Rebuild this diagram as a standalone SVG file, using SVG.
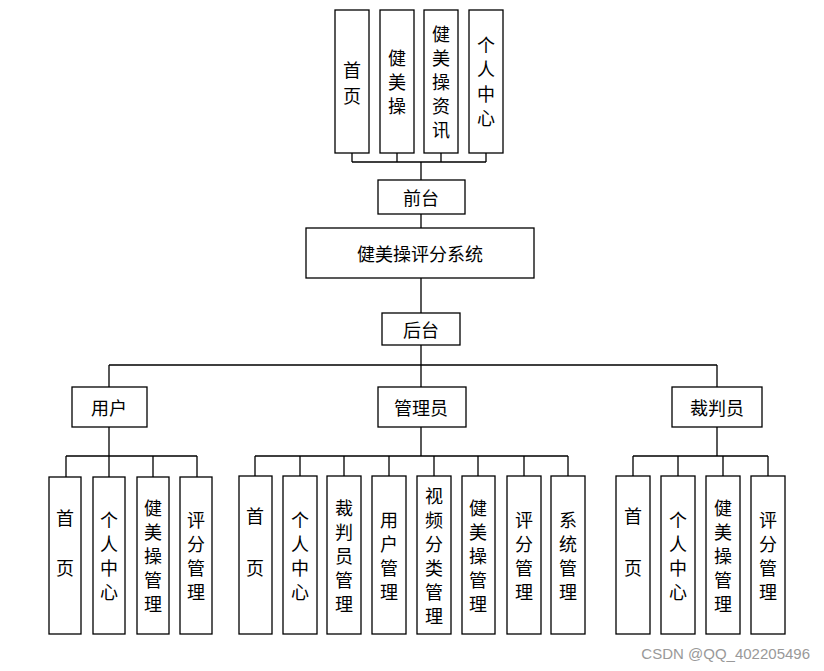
<svg xmlns="http://www.w3.org/2000/svg" width="824" height="671" viewBox="0 0 824 671">
<style>
.b{fill:#fff;stroke:#000;stroke-width:1.3}
.t{font-family:"Noto Sans CJK SC","Liberation Sans",sans-serif;font-size:18px;fill:#000;text-anchor:middle;dominant-baseline:central}
.l{fill:none;stroke:#000;stroke-width:1.3}
</style>
<rect width="824" height="671" fill="#fff"/>
<g id="connectors">
<path class="l" d="M352 153V162M397 153V162M441 153V162M486 153V162M352 162H486M421 162V180M421 214V228M421 278V313M421 345V365M109 365H717M109 365V387M421 365V387M717 365V387"/>
<path class="l" d="M109 427V456M66 456H197M66 456V477M109 456V477M153 456V477M197 456V477"/>
<path class="l" d="M421 427V456M255 456H568M255 456V476M300 456V476M344 456V476M389 456V476M434 456V476M478 456V476M524 456V476M568 456V476"/>
<path class="l" d="M717 427V456M633 456H768M633 456V476M678 456V476M723 456V476M768 456V476"/>
</g>
<g id="t1"><rect class="b" x="335" y="10" width="34" height="143"/><text class="t" x="352"><tspan x="352" y="69">首</tspan><tspan x="352" y="95">页</tspan></text></g>
<g id="t2"><rect class="b" x="380" y="10" width="34" height="143"/><text class="t"><tspan x="397" y="57">健</tspan><tspan x="397" y="81">美</tspan><tspan x="397" y="105">操</tspan></text></g>
<g id="t3"><rect class="b" x="424" y="10" width="34" height="143"/><text class="t"><tspan x="441" y="33">健</tspan><tspan x="441" y="57">美</tspan><tspan x="441" y="81">操</tspan><tspan x="441" y="105">资</tspan><tspan x="441" y="129">讯</tspan></text></g>
<g id="t4"><rect class="b" x="469" y="10" width="34" height="143"/><text class="t"><tspan x="486" y="44">个</tspan><tspan x="486" y="68">人</tspan><tspan x="486" y="93">中</tspan><tspan x="486" y="117">心</tspan></text></g>
<g id="front"><rect class="b" x="378" y="180" width="87" height="34"/><text class="t" x="421" y="197">前台</text></g>
<g id="main"><rect class="b" x="306" y="228" width="228" height="50"/><text class="t" x="420" y="253">健美操评分系统</text></g>
<g id="back"><rect class="b" x="382" y="313" width="78" height="32"/><text class="t" x="421" y="329">后台</text></g>
<g id="user"><rect class="b" x="72" y="387" width="75" height="40"/><text class="t" x="109" y="407">用户</text></g>
<g id="admin"><rect class="b" x="378" y="387" width="88" height="40"/><text class="t" x="421" y="407">管理员</text></g>
<g id="judge"><rect class="b" x="672" y="387" width="90" height="40"/><text class="t" x="717" y="407">裁判员</text></g>
<g id="u1"><rect class="b" x="49" y="477" width="32" height="157"/><text class="t"><tspan x="65" y="517">首</tspan><tspan x="65" y="567">页</tspan></text></g>
<g id="u2"><rect class="b" x="93" y="477" width="32" height="157"/><text class="t"><tspan x="109" y="519">个</tspan><tspan x="109" y="543">人</tspan><tspan x="109" y="567">中</tspan><tspan x="109" y="591">心</tspan></text></g>
<g id="u3"><rect class="b" x="137" y="477" width="32" height="157"/><text class="t"><tspan x="153" y="507">健</tspan><tspan x="153" y="531">美</tspan><tspan x="153" y="555">操</tspan><tspan x="153" y="579">管</tspan><tspan x="153" y="603">理</tspan></text></g>
<g id="u4"><rect class="b" x="180" y="477" width="32" height="157"/><text class="t"><tspan x="196" y="519">评</tspan><tspan x="196" y="543">分</tspan><tspan x="196" y="567">管</tspan><tspan x="196" y="591">理</tspan></text></g>
<g id="a1"><rect class="b" x="239" y="476" width="33" height="158"/><text class="t"><tspan x="255" y="515">首</tspan><tspan x="255" y="567">页</tspan></text></g>
<g id="a2"><rect class="b" x="283" y="476" width="34" height="158"/><text class="t"><tspan x="300" y="519">个</tspan><tspan x="300" y="543">人</tspan><tspan x="300" y="567">中</tspan><tspan x="300" y="591">心</tspan></text></g>
<g id="a3"><rect class="b" x="327" y="476" width="34" height="158"/><text class="t"><tspan x="344" y="507">裁</tspan><tspan x="344" y="531">判</tspan><tspan x="344" y="555">员</tspan><tspan x="344" y="579">管</tspan><tspan x="344" y="603">理</tspan></text></g>
<g id="a4"><rect class="b" x="372" y="476" width="34" height="158"/><text class="t"><tspan x="389" y="519">用</tspan><tspan x="389" y="543">户</tspan><tspan x="389" y="567">管</tspan><tspan x="389" y="591">理</tspan></text></g>
<g id="a5"><rect class="b" x="417" y="476" width="34" height="158"/><text class="t"><tspan x="434" y="495">视</tspan><tspan x="434" y="519">频</tspan><tspan x="434" y="543">分</tspan><tspan x="434" y="567">类</tspan><tspan x="434" y="591">管</tspan><tspan x="434" y="615">理</tspan></text></g>
<g id="a6"><rect class="b" x="462" y="476" width="33" height="158"/><text class="t"><tspan x="478" y="507">健</tspan><tspan x="478" y="531">美</tspan><tspan x="478" y="555">操</tspan><tspan x="478" y="579">管</tspan><tspan x="478" y="603">理</tspan></text></g>
<g id="a7"><rect class="b" x="507" y="476" width="34" height="158"/><text class="t"><tspan x="524" y="519">评</tspan><tspan x="524" y="543">分</tspan><tspan x="524" y="567">管</tspan><tspan x="524" y="591">理</tspan></text></g>
<g id="a8"><rect class="b" x="551" y="476" width="34" height="158"/><text class="t"><tspan x="568" y="519">系</tspan><tspan x="568" y="543">统</tspan><tspan x="568" y="567">管</tspan><tspan x="568" y="591">理</tspan></text></g>
<g id="j1"><rect class="b" x="616" y="476" width="34" height="158"/><text class="t"><tspan x="633" y="515">首</tspan><tspan x="633" y="567">页</tspan></text></g>
<g id="j2"><rect class="b" x="661" y="476" width="34" height="158"/><text class="t"><tspan x="678" y="519">个</tspan><tspan x="678" y="543">人</tspan><tspan x="678" y="567">中</tspan><tspan x="678" y="591">心</tspan></text></g>
<g id="j3"><rect class="b" x="706" y="476" width="34" height="158"/><text class="t"><tspan x="723" y="507">健</tspan><tspan x="723" y="531">美</tspan><tspan x="723" y="555">操</tspan><tspan x="723" y="579">管</tspan><tspan x="723" y="603">理</tspan></text></g>
<g id="j4"><rect class="b" x="751" y="476" width="34" height="158"/><text class="t"><tspan x="768" y="519">评</tspan><tspan x="768" y="543">分</tspan><tspan x="768" y="567">管</tspan><tspan x="768" y="591">理</tspan></text></g>
<text x="810" y="659" font-family="Liberation Sans,sans-serif" font-size="15" fill="#999" text-anchor="end">CSDN @QQ_402205496</text>
</svg>
